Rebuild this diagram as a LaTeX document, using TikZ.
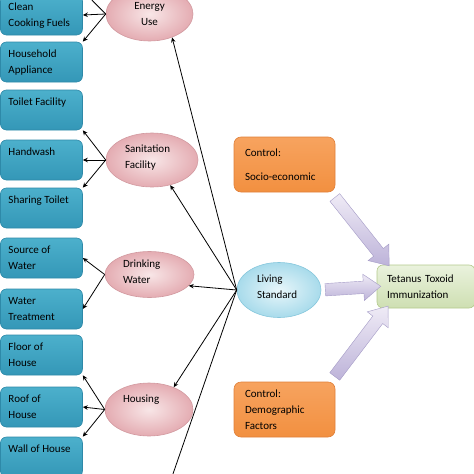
\documentclass[tikz,border=0pt]{standalone}
\usepackage{fontspec}
\setmainfont{Carlito}
\usetikzlibrary{arrows.meta,calc,shapes.geometric,shapes.arrows}
\definecolor{itemedge}{HTML}{2E89A8}
\definecolor{itemtop}{HTML}{4CB0CC}
\definecolor{itemmid}{HTML}{66C2DA}
\definecolor{itembottom}{HTML}{3497B7}
\definecolor{factoredge}{HTML}{D29AA0}
\definecolor{factorinner}{HTML}{F8E6E7}
\definecolor{factorouter}{HTML}{E4ACB2}
\definecolor{hubedge}{HTML}{86C7DC}
\definecolor{hubinner}{HTML}{E8F6FA}
\definecolor{hubouter}{HTML}{A8DBEB}
\definecolor{controledge}{HTML}{E0803A}
\definecolor{controltop}{HTML}{F7A35F}
\definecolor{controlmid}{HTML}{FBBD8A}
\definecolor{controlbottom}{HTML}{F29040}
\definecolor{outcomeedge}{HTML}{B3C98C}
\definecolor{outcometop}{HTML}{EAF2DD}
\definecolor{outcomebottom}{HTML}{CEDFB2}
\definecolor{arrowedge}{HTML}{A49BC6}
\definecolor{arrowlight}{HTML}{EFEBF6}
\definecolor{arrowdark}{HTML}{BDB3D9}
\tikzset{
    survey diagram/.style = {font=\fontsize{11}{16}\selectfont},
    indicator/.style      = {draw=itemedge, semithick, rounded corners=6pt,
                             top color=itemtop, middle color=itemmid,
                             bottom color=itembottom,
                             minimum width=81pt, minimum height=40pt,
                             inner xsep=8pt, inner ysep=8pt},
    factor/.style         = {ellipse, draw=factoredge, semithick,
                             inner color=factorinner, outer color=factorouter,
                             inner sep=0pt},
    hub/.style            = {factor, draw=hubedge,
                             inner color=hubinner, outer color=hubouter},
    control/.style        = {draw=controledge, semithick, rounded corners=7pt,
                             top color=controltop, middle color=controlmid,
                             bottom color=controlbottom,
                             minimum width=101pt, minimum height=55pt,
                             text width=79pt, align=left, inner xsep=11pt},
    outcome/.style        = {draw=outcomeedge, semithick, rounded corners=6pt,
                             top color=outcometop, bottom color=outcomebottom,
                             minimum width=90pt, minimum height=43pt,
                             text width=78pt, align=left, inner xsep=10pt},
    link/.style           = {draw, line width=0.8pt,
                             -{Stealth[length=5pt, width=4.5pt]}},
    fat arrow/.style      = {single arrow, draw=arrowedge, thin,
                             top color=arrowlight, bottom color=arrowdark,
                             inner xsep=0pt, inner ysep=6pt,
                             single arrow head extend=7pt,
                             single arrow tip angle=75,
                             single arrow head indent=0pt}
}
\newcommand{\itemtext}[1]{\parbox[c][24pt][t]{66pt}{\raggedright #1}}
\newcommand{\factortext}[2]{\parbox[c][30pt][t]{#1}{\raggedright #2}}
\newcommand{\fatarrow}[2]{%
    \path let \p1 = (#1), \p2 = (#2),
        \n1 = {atan2(\y2-\y1,\x2-\x1)}, \n2 = {veclen(\x2-\x1,\y2-\y1)} in
        node[fat arrow, minimum height=\n2, rotate=\n1]
            at ($(#1)!0.5!(#2)$) {};}

\begin{document}
\begin{tikzpicture}[x=1pt, y=-1pt, survey diagram]
\useasboundingbox (0,0) rectangle (474,474);
\clip (0,0) rectangle (474,474);

% Indicators of living standard, left column.
\foreach \name/\y/\words in {
    cooking/15/{Clean\\Cooking Fuels}, household/62/{Household\\Appliance},
    toilet/110/{Toilet Facility}, handwash/160/{Handwash},
    sharing/208/{Sharing Toilet}, source/258/{Source of\\Water},
    treatment/309/{Water\\Treatment}, floor/355/{Floor of\\House},
    roof/407/{Roof of\\House}, wall/457/{Wall of House}} {
    \node[indicator] (\name) at (41.5,\y) {\itemtext{\words}};
}

% Dimensions.
\node[factor, minimum width=87pt, minimum height=54pt]
    (energy) at (149.5,14)
    {\parbox{44pt}{\centering Energy\\Use}\hspace{10pt}};
\node[factor, minimum width=92pt, minimum height=54pt]
    (sanitation) at (152,160) {\factortext{54pt}{Sanitation\\Facility}};
\node[factor, minimum width=89pt, minimum height=46pt]
    (drinking) at (149.5,274.5) {\factortext{53pt}{Drinking\\Water}};
\node[factor, minimum width=88pt, minimum height=53pt]
    (housing) at (149,409.5) {\factortext{52pt}{Housing}};
\node[hub, minimum width=84pt, minimum height=55pt]
    (living) at (279,290) {\factortext{44pt}{Living\\Standard}};

% Controls and outcome.
\node[control] (socio) at (284.5,164.5) {Control:\\[8pt]Socio-economic};
\node[control] (demo) at (284.5,409.5) {Control:\\Demographic\\Factors};
\node[outcome] (tetanus) at (426,286.5) {Tetanus Toxoid\\Immunization};

% Dimension to indicator links.
\foreach \factor/\target in {
    energy/cooking.east, energy/household.north east,
    sanitation/toilet.south east, sanitation/handwash.east,
    sanitation/sharing.north east,
    drinking/source.east, drinking/treatment.east,
    housing/floor.south east, housing/roof.east, housing/wall.north east} {
    \draw[link] (\factor.west) -- (\target);
}
\coordinate (upper item) at (72,-20);
\draw[link] (energy.west) -- (upper item);

% Living standard to dimensions.
\foreach \target in {energy.-46, sanitation.-54, drinking.-16, housing.42} {
    \draw[link] (living.west) -- (\target);
}
\coordinate (lower factor) at (157,520);
\draw[link] (living.west) -- (lower factor);

% Paths into the outcome.
\coordinate (socio tail) at ([xshift=-3pt,yshift=-2pt]socio.south east);
\coordinate (socio tip) at ([xshift=10pt,yshift=2pt]tetanus.north west);
\coordinate (demo tail) at ([xshift=-3pt,yshift=2pt]demo.north east);
\coordinate (demo tip) at ([xshift=9pt,yshift=-1pt]tetanus.south west);
\fatarrow{socio tail}{socio tip}
\fatarrow{living.east}{tetanus.west}
\fatarrow{demo tail}{demo tip}

\end{tikzpicture}
\end{document}
